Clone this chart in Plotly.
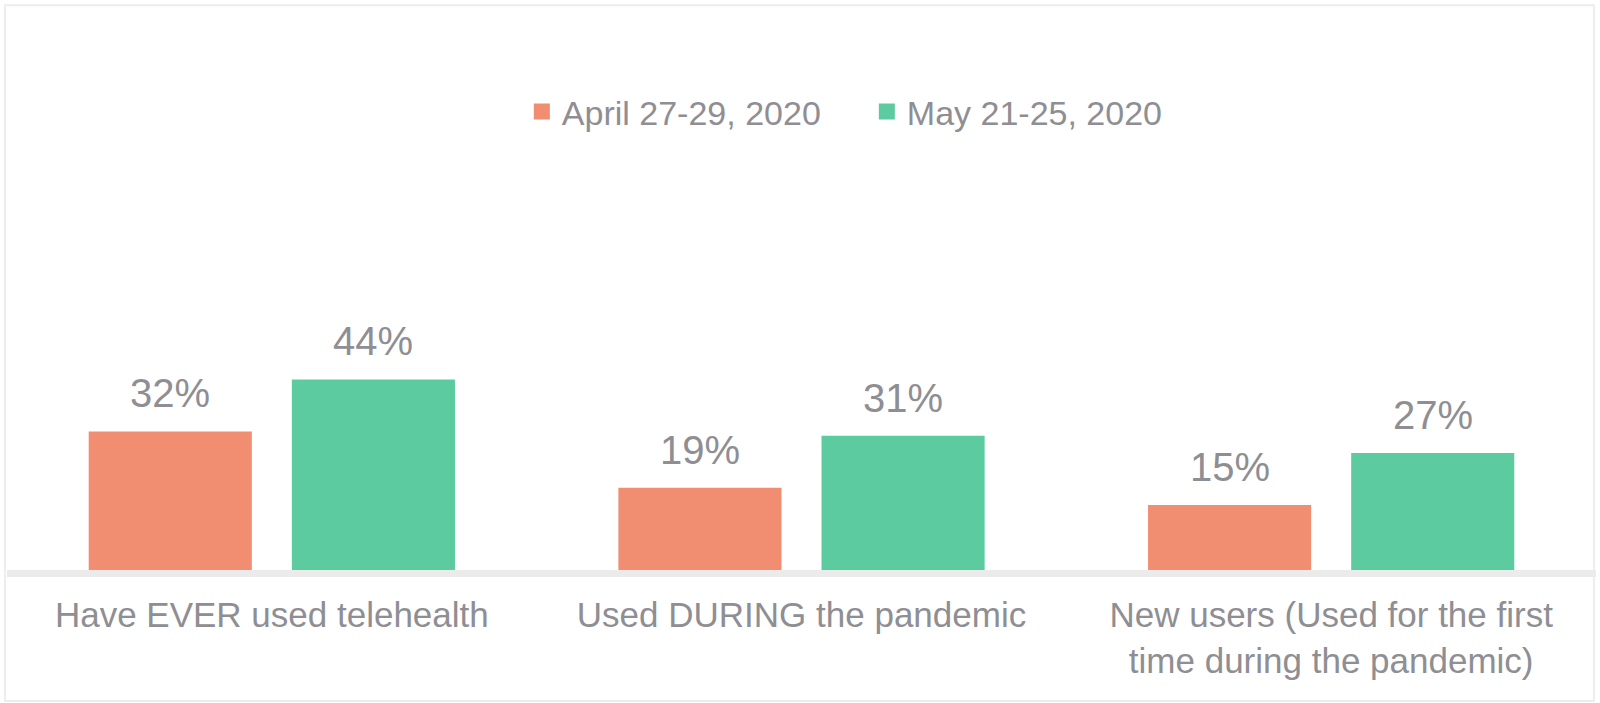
import plotly.graph_objects as go

categories = ["Have EVER used telehealth", "Used DURING the pandemic",
              "New users (Used for the first<br>time during the pandemic)"]
series_names = ["April 27-29, 2020", "May 21-25, 2020"]
april = [32, 19, 15]
may = [44, 31, 27]
colors = ["#F18D71", "#5CCBA0"]
gray = "#8E8E93"

fig = go.Figure()
for name, vals, col in zip(series_names, [april, may], colors):
    fig.add_trace(go.Bar(x=categories, y=vals, name=name, marker_color=col,
                         marker_line_width=0, showlegend=False))
# legend entries with bigger square swatches
for name, col in zip(series_names, colors):
    fig.add_trace(go.Scatter(x=[None], y=[None], mode="markers", name=name,
                             marker=dict(symbol="square", size=17, color=col)))

# value labels above each bar
shifts = [-101.5, 101.5]
annos = []
for vals, dx in zip([april, may], shifts):
    for cat, v in zip(categories, vals):
        annos.append(dict(x=cat, y=v, text=f"{v}%", showarrow=False, xshift=dx,
                          yshift=14, yanchor="bottom",
                          font=dict(size=40, color=gray)))

fig.update_layout(
    width=1600, height=703,
    margin=dict(l=7, r=4, t=20, b=133),
    paper_bgcolor="white", plot_bgcolor="white",
    font=dict(family="Liberation Sans, Arial, sans-serif", color=gray),
    barmode="group", bargap=0.233, bargroupgap=0.197,
    annotations=annos,
    legend=dict(orientation="h", x=0.324, xanchor="left", y=0.833, yanchor="middle",
                font=dict(size=34, color=gray), bgcolor="rgba(0,0,0,0)",
                entrywidth=300, itemsizing="trace"),
    shapes=[dict(type="rect", xref="paper", yref="paper",
                 x0=-0.0013, x1=0.9987, y0=-0.238, y1=1.027,
                 line=dict(color="#EDEDED", width=2), layer="below")],
)
fig.update_xaxes(showline=True, linewidth=7, linecolor="#EBEBEB",
                 tickfont=dict(size=35, color=gray), ticks="", showgrid=False,
                 ticklabelstandoff=8)
fig.update_yaxes(range=[0, 127], visible=False, showgrid=False, zeroline=False)

fig.write_html("out.html", config={"displayModeBar": False},
               post_script="document.body.style.margin='0px';")
